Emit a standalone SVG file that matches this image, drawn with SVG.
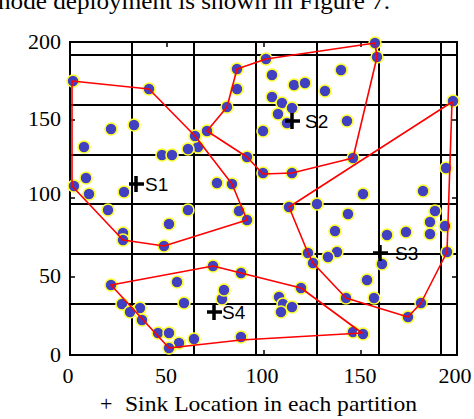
<svg xmlns="http://www.w3.org/2000/svg" width="474" height="419" viewBox="0 0 474 419">
<style>
.serif{font-family:"Liberation Serif","Times New Roman",serif;fill:#000}
.lab{font-family:"Liberation Sans",Arial,sans-serif;font-size:19px;fill:#000}
.grid{stroke:#000;stroke-width:2;fill:none}
.tick{stroke:#000;stroke-width:1.5}
.d{fill:#4040c0;stroke:#ffff30;stroke-width:1.6}
.hull{fill:none;stroke:#ff0000;stroke-width:1.6;stroke-linejoin:round}
.sink{stroke:#000;stroke-width:3.5;fill:none}
</style>
<rect width="474" height="419" fill="#fff"/>
<text class="serif" x="-2" y="9" font-size="23" textLength="392" lengthAdjust="spacingAndGlyphs">node deployment is shown in Figure 7.</text>

<g id="grid">
<path class="grid" d="M132 42V355M194 42V355M256 42V355M317 42V355M379 42V355M441 42V355M70 55H457M70 105H457M70 155H457M70 204H457M70 254H457M70 304H457"/>
<rect class="grid" x="70" y="42" width="387" height="313"/>
<path class="tick" d="M167 43v4M264 43v4M361 43v4M167 354v-4M264 354v-4M361 354v-4M456 120h-4M456 198h-4M456 277h-4M71 120h4M71 198h4M71 277h4"/>
</g>

<g id="ticklabels" class="serif" font-size="22">
<text x="61" y="49" text-anchor="end">200</text>
<text x="61" y="126" text-anchor="end">150</text>
<text x="61" y="201" text-anchor="end">100</text>
<text x="61" y="283" text-anchor="end">50</text>
<text x="61" y="362" text-anchor="end">0</text>
<text x="68" y="383" text-anchor="middle">0</text>
<text x="166" y="383" text-anchor="middle">50</text>
<text x="262" y="383" text-anchor="middle">100</text>
<text x="360" y="383" text-anchor="middle">150</text>
<text x="455" y="383" text-anchor="middle">200</text>
</g>

<g id="nodes">
<circle class="d" cx="123" cy="233" r="6"/>
<circle class="d" cx="140" cy="308" r="6"/>
<circle class="d" cx="179" cy="343" r="6"/>
<circle class="d" cx="279" cy="297" r="6"/>
<circle class="d" cx="73" cy="81" r="6"/>
<circle class="d" cx="149" cy="89" r="6"/>
<circle class="d" cx="111" cy="129" r="6"/>
<circle class="d" cx="134" cy="125" r="6"/>
<circle class="d" cx="84" cy="147" r="6"/>
<circle class="d" cx="162" cy="155" r="6"/>
<circle class="d" cx="172" cy="155" r="6"/>
<circle class="d" cx="198" cy="147" r="6"/>
<circle class="d" cx="188" cy="149" r="6"/>
<circle class="d" cx="195" cy="136" r="6"/>
<circle class="d" cx="207" cy="131" r="6"/>
<circle class="d" cx="227" cy="107" r="6"/>
<circle class="d" cx="237" cy="69" r="6"/>
<circle class="d" cx="237" cy="89" r="6"/>
<circle class="d" cx="266" cy="59" r="6"/>
<circle class="d" cx="272" cy="75" r="6"/>
<circle class="d" cx="294" cy="85" r="6"/>
<circle class="d" cx="305" cy="83" r="6"/>
<circle class="d" cx="325" cy="91" r="6"/>
<circle class="d" cx="272" cy="97" r="6"/>
<circle class="d" cx="282" cy="103" r="6"/>
<circle class="d" cx="292" cy="108" r="6"/>
<circle class="d" cx="278" cy="114" r="6"/>
<circle class="d" cx="287" cy="123" r="6"/>
<circle class="d" cx="263" cy="131" r="6"/>
<circle class="d" cx="247" cy="157" r="6"/>
<circle class="d" cx="263" cy="173" r="6"/>
<circle class="d" cx="292" cy="173" r="6"/>
<circle class="d" cx="217" cy="183" r="6"/>
<circle class="d" cx="232" cy="184" r="6"/>
<circle class="d" cx="341" cy="70" r="6"/>
<circle class="d" cx="375" cy="43" r="6"/>
<circle class="d" cx="377" cy="57" r="6"/>
<circle class="d" cx="347" cy="121" r="6"/>
<circle class="d" cx="353" cy="158" r="6"/>
<circle class="d" cx="453" cy="101" r="6"/>
<circle class="d" cx="446" cy="168" r="6"/>
<circle class="d" cx="423" cy="191" r="6"/>
<circle class="d" cx="363" cy="194" r="6"/>
<circle class="d" cx="86" cy="178" r="6"/>
<circle class="d" cx="74" cy="186" r="6"/>
<circle class="d" cx="89" cy="194" r="6"/>
<circle class="d" cx="124" cy="192" r="6"/>
<circle class="d" cx="108" cy="210" r="6"/>
<circle class="d" cx="188" cy="210" r="6"/>
<circle class="d" cx="169" cy="224" r="6"/>
<circle class="d" cx="123" cy="240" r="6"/>
<circle class="d" cx="164" cy="246" r="6"/>
<circle class="d" cx="239" cy="211" r="6"/>
<circle class="d" cx="247" cy="220" r="6"/>
<circle class="d" cx="289" cy="207" r="6"/>
<circle class="d" cx="317" cy="204" r="6"/>
<circle class="d" cx="348" cy="214" r="6"/>
<circle class="d" cx="335" cy="231" r="6"/>
<circle class="d" cx="387" cy="235" r="6"/>
<circle class="d" cx="406" cy="232" r="6"/>
<circle class="d" cx="435" cy="211" r="6"/>
<circle class="d" cx="430" cy="222" r="6"/>
<circle class="d" cx="430" cy="234" r="6"/>
<circle class="d" cx="445" cy="226" r="6"/>
<circle class="d" cx="447" cy="252" r="6"/>
<circle class="d" cx="308" cy="253" r="6"/>
<circle class="d" cx="313" cy="263" r="6"/>
<circle class="d" cx="337" cy="252" r="6"/>
<circle class="d" cx="328" cy="257" r="6"/>
<circle class="d" cx="382" cy="264" r="6"/>
<circle class="d" cx="367" cy="280" r="6"/>
<circle class="d" cx="346" cy="298" r="6"/>
<circle class="d" cx="374" cy="298" r="6"/>
<circle class="d" cx="421" cy="303" r="6"/>
<circle class="d" cx="408" cy="317" r="6"/>
<circle class="d" cx="353" cy="332" r="6"/>
<circle class="d" cx="363" cy="334" r="6"/>
<circle class="d" cx="111" cy="285" r="6"/>
<circle class="d" cx="177" cy="282" r="6"/>
<circle class="d" cx="184" cy="303" r="6"/>
<circle class="d" cx="122" cy="304" r="6"/>
<circle class="d" cx="130" cy="312" r="6"/>
<circle class="d" cx="142" cy="320" r="6"/>
<circle class="d" cx="158" cy="333" r="6"/>
<circle class="d" cx="169" cy="333" r="6"/>
<circle class="d" cx="169" cy="348" r="6"/>
<circle class="d" cx="194" cy="339" r="6"/>
<circle class="d" cx="213" cy="266" r="6"/>
<circle class="d" cx="241" cy="273" r="6"/>
<circle class="d" cx="222" cy="299" r="6"/>
<circle class="d" cx="224" cy="290" r="6"/>
<circle class="d" cx="301" cy="288" r="6"/>
<circle class="d" cx="283" cy="304" r="6"/>
<circle class="d" cx="292" cy="307" r="6"/>
<circle class="d" cx="281" cy="312" r="6"/>
<circle class="d" cx="241" cy="337" r="6"/>
</g>

<g id="connectors">
<polygon class="hull" points="72,81 149,89 195,136 232,184 247,220 164,246 123,240 72,186"/>
<polygon class="hull" points="237,69 266,59 375,43 377,57 353,158 292,173 263,174 247,157 207,131 227,107"/>
<polygon class="hull" points="289,207 452,102 447,252 421,303 408,317 346,298 313,263 308,253"/>
<polygon class="hull" points="111,285 213,266 241,273 301,288 362,333 241,340 169,348"/>
</g>

<g id="S1"><path class="sink" d="M129 184h15M136 176v16"/><text class="lab" x="145" y="191">S1</text></g>
<g id="S2"><path class="sink" d="M285 121h15M292 113v16"/><text class="lab" x="305" y="128">S2</text></g>
<g id="S3"><path class="sink" d="M373 253h15M380 245v16"/><text class="lab" x="395" y="260">S3</text></g>
<g id="S4"><path class="sink" d="M207 312h15M214 304v16"/><text class="lab" x="222" y="319">S4</text></g>

<g id="caption" class="serif" font-size="22">
<text x="100" y="411">+</text>
<text x="125" y="411" textLength="292" lengthAdjust="spacingAndGlyphs">Sink Location in each partition</text>
</g>
</svg>
